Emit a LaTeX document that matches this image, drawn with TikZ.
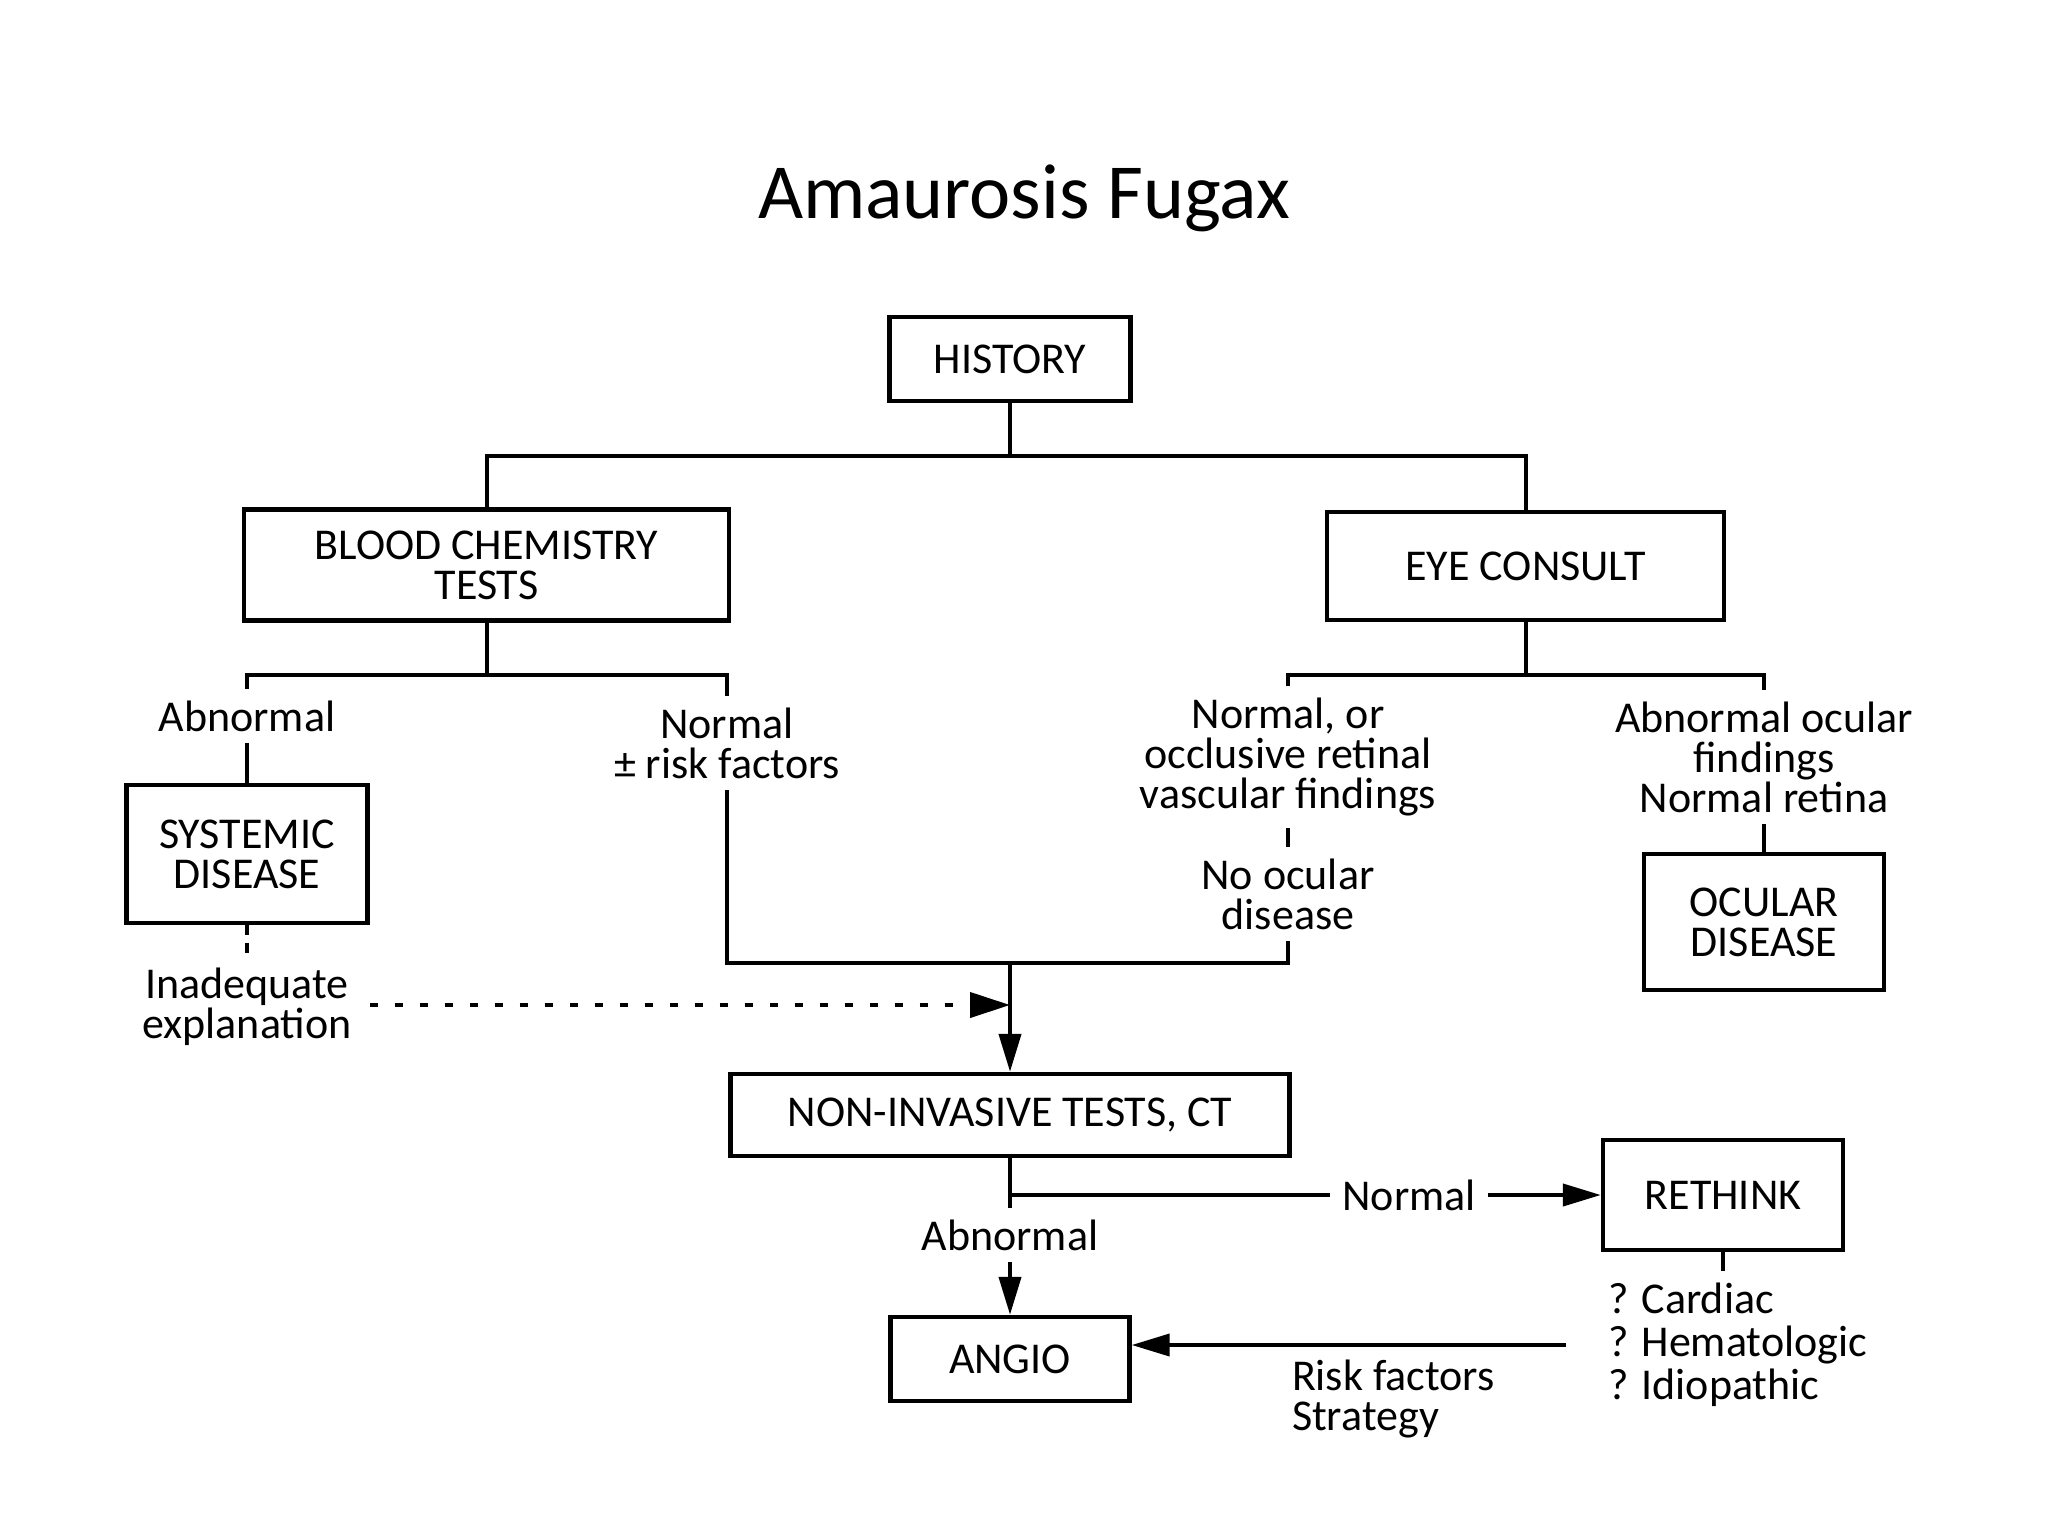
\documentclass[tikz,border=0pt]{standalone}
\usepackage{fontspec}
\setmainfont{Carlito}
\usetikzlibrary{arrows.meta}
\begin{document}
\begin{tikzpicture}[x=0.5pt,y=-0.5pt, line width=2pt,
  box/.style={draw, line width=2.2pt, inner sep=0pt, align=center, font=\fontsize{22}{20}\selectfont},
  lbl/.style={inner sep=5pt, align=center, font=\fontsize{22}{20}\selectfont},
  arr/.style={-{Triangle[length=19pt,width=11pt]}},
  darr/.style={-{Triangle[length=20pt,width=12.5pt]}, dash pattern=on 4pt off 8.5pt},
]
\fill[white] (0,0) rectangle (2048,1536);
\useasboundingbox (0,0) rectangle (2048,1536);

\node[font=\fontsize{39}{47}\selectfont, anchor=base] (title) at (1024,218) {Amaurosis Fugax};

\node[box, minimum width=120.5pt, minimum height=42pt] (hist) at (1010,359) {HISTORY};
\node[box, minimum width=242.5pt, minimum height=55.5pt] (blood) at (486.5,565) {BLOOD CHEMISTRY\\TESTS};
\node[box, minimum width=198.5pt, minimum height=54pt] (eye) at (1525.5,566) {EYE CONSULT};
\node[box, minimum width=120.5pt, minimum height=69pt] (sys) at (247,854) {SYSTEMIC\\DISEASE};
\node[box, minimum width=120pt, minimum height=68pt] (ocular) at (1764,922) {OCULAR\\DISEASE};
\node[box, minimum width=279.5pt, minimum height=41pt] (ni) at (1010,1115) {NON-INVASIVE TESTS, CT};
\node[box, minimum width=120pt, minimum height=55pt] (rethink) at (1723,1195) {RETHINK};
\node[box, minimum width=119.5pt, minimum height=42pt] (angio) at (1010,1359) {ANGIO};

\node[lbl] (abn1) at (247,716) {Abnormal};
\node[lbl] (norm1) at (727,743) {Normal\\± risk factors};
\node[lbl] (nor2) at (1288,757) {Normal, or\\occlusive retinal\\vascular findings};
\node[lbl] (noc) at (1288,894) {No ocular\\disease};
\node[lbl] (abn2) at (1764,757) {Abnormal ocular\\findings\\Normal retina};
\node[lbl, inner xsep=8pt, inner ysep=3pt] (inad) at (247,1007) {Inadequate\\explanation};
\node[lbl] (abn3) at (1010,1235) {Abnormal};
\node[lbl] (nrm3) at (1409,1195) {Normal};
\node[lbl, align=left, anchor=west, inner xsep=20pt, font=\fontsize{22}{21.5}\selectfont] (q) at (1566,1345) {? Cardiac\\? Hematologic\\? Idiopathic};
\node[lbl, align=left, anchor=north west, font=\fontsize{22}{20}\selectfont] (risk) at (1280,1348) {Risk factors\\Strategy};

\coordinate (j1) at (1010,456);
\coordinate (j2) at (486.5,675);
\coordinate (j3) at (727,963);
\coordinate (j4) at (1288,963);
\coordinate (j5) at (1010,963);
\coordinate (j6) at (1525.5,675);
\coordinate (j7) at (1010,1005);
\coordinate (j8) at (1010,1195);

\draw (hist) -- (j1);
\draw (j1) -| (blood);
\draw (j1) -| (eye);
\draw (blood) -- (j2);
\draw (j2) -| (abn1);
\draw (abn1) -- (sys);
\draw (j2) -| (norm1);
\draw (norm1) -- (j3) -- (j4) -- (noc);
\draw[arr] (j5) -- (ni);
\draw (eye) -- (j6);
\draw (j6) -| (nor2);
\draw (j6) -| (abn2);
\draw (nor2) -- (noc);
\draw (abn2) -- (ocular);
\draw[dash pattern=on 5pt off 4pt] (sys) -- (inad);
\draw[darr] (inad.east |- j7) -- (j7);
\draw (ni) -- (abn3);
\draw[arr] (abn3) -- (angio);
\draw (j8) -- (nrm3);
\draw[arr] (nrm3) -- (rethink);
\draw (rethink) -- (rethink.south |- q.north);
\draw[arr] (q.west) -- (q.west -| angio.east);
\end{tikzpicture}
\end{document}
